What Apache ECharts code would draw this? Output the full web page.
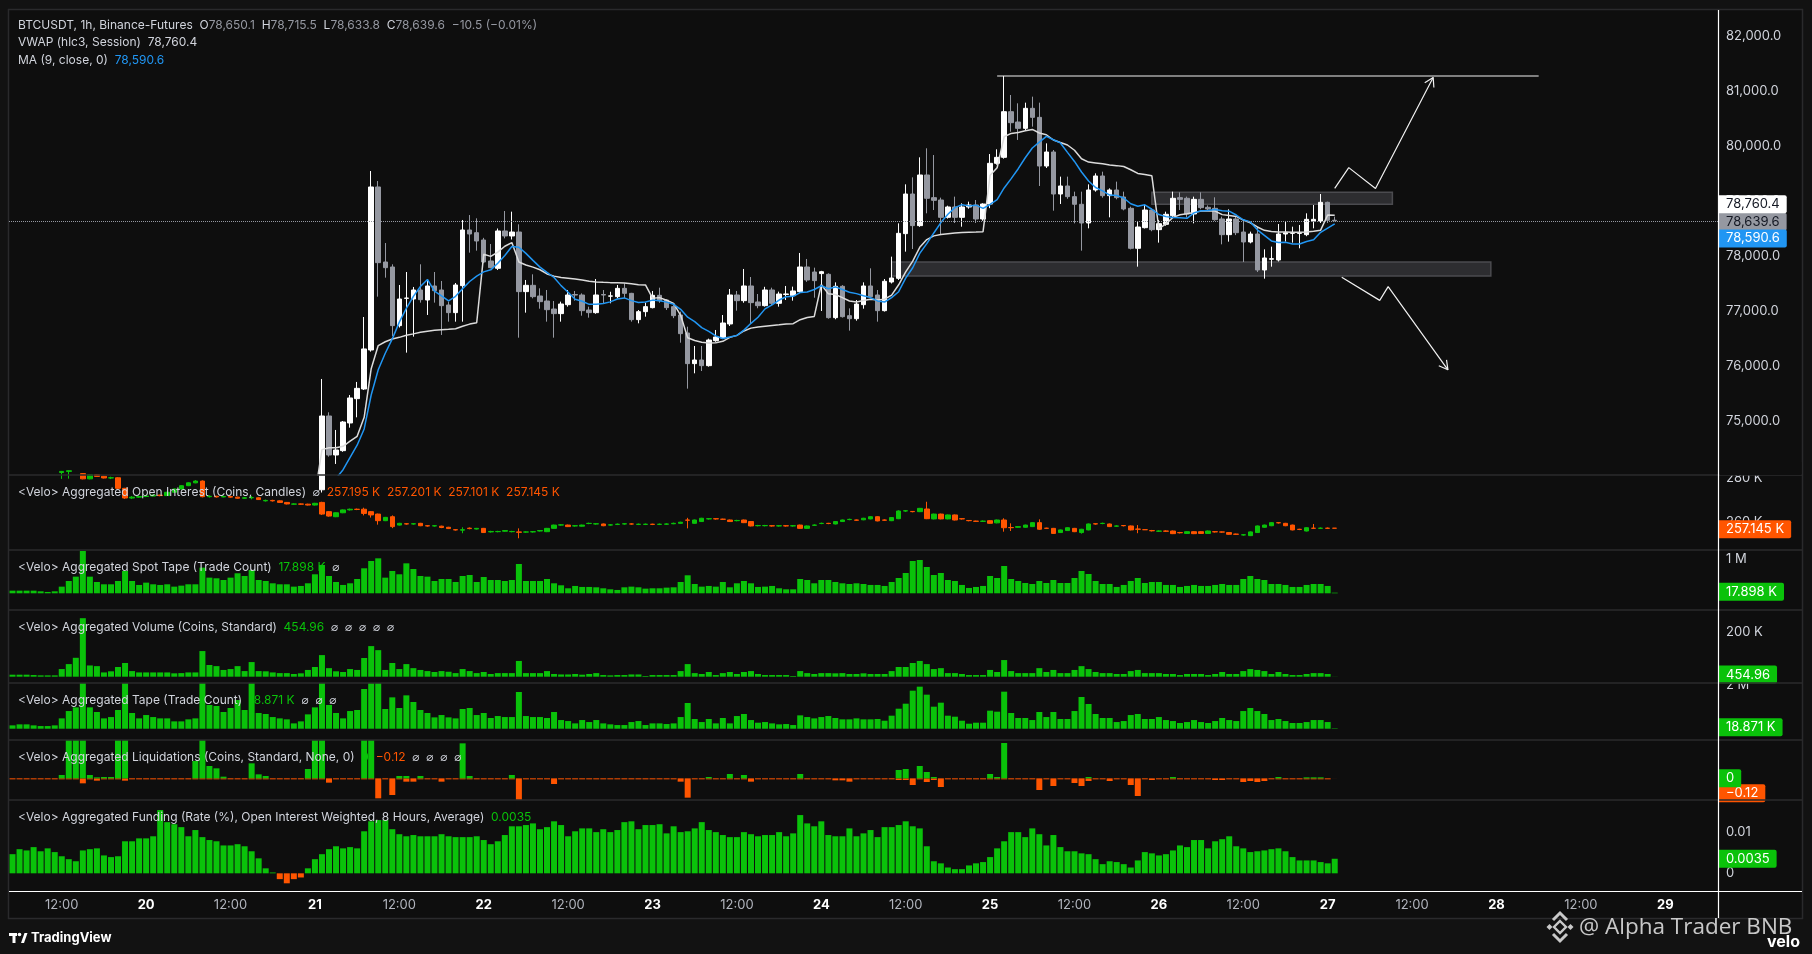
<!DOCTYPE html>
<html><head><meta charset="utf-8">
<script src="https://cdn.jsdelivr.net/npm/echarts@6/dist/echarts.min.js"></script>
<style>html,body{margin:0;padding:0;background:#121212;}#c{width:1812px;height:954px;}</style>
</head><body><div id="c"></div>
<script>
// ===== DATA (hourly slots; hour index counted from day 19 00:00) =====
const FIRST_HOUR = 5;          // first slot = 19th 05:00
const SLOT_COUNT = 243;        // slots up to 29th 07:00
const PRICE_FIRST_HOUR = 41;   // first candle kept for the price series
const dayLabels = ['19','20','21','22','23','24','25','26','27','28','29'];
const priceTicks = [75000,76000,77000,78000,79000,80000,81000,82000];

// BTCUSDT 1h candles [open, close, low, high], h41 .. h193
const priceOHLC = [
[73550,73500,73300,73700],[73500,73450,73250,73650],[73450,73550,73300,73700],[73550,73400,73200,73650],
[73400,73600,73350,73750],[73600,73650,73450,73800],[73650,73700,73500,73850],[73600,73750,73250,73950],
[73750,75091,73700,75764],[75091,74382,74352,75158],[74382,74473,74219,74837],[74461,74982,74440,75000],
[74964,75419,74879,75473],[75406,75594,75067,75710],[75582,76310,75564,76891],[76291,79255,76261,79545],
[79255,77879,77261,79363],[77891,77788,77606,78236],[77800,76734,76546,77849],[76734,77218,76700,77473],
[77230,77236,76243,77709],[77218,77382,76534,77437],[77382,77206,77152,77849],[77200,77455,76928,77582],
[77455,77370,77152,77709],[77382,77097,76564,77546],[77109,76970,76806,77170],[76970,77473,76806,77509],
[77461,78473,76806,78655],[78473,78400,78061,78745],[78424,78273,78097,78685],[78291,77891,77870,78330],
[77909,77788,77776,78218],[77776,78455,77745,78500],[78455,78364,78321,78818],[78364,78436,78300,78806],
[78436,77352,76515,78576],[77352,77467,76970,77564],[77467,77261,77230,77667],[77273,77170,77042,77412],
[77182,77024,76806,77382],[77036,76952,76515,77182],[76952,77127,76806,77170],[77115,77291,77079,77382],
[77300,77290,77188,77364],[77291,77006,76915,77321],[77018,76970,76879,77079],[76970,77291,76950,77582],
[77300,77290,77140,77382],[77270,77275,77140,77350],[77261,77412,77230,77473],[77412,77321,77230,77503],
[77321,76843,76806,77330],[76843,76988,76776,77018],[76988,77079,76897,77152],[77061,77285,77048,77364],
[77285,77188,77150,77424],[77200,77061,77018,77212],[77079,76915,76870,77127],[76927,76588,76424,76988],
[76600,76043,75588,76715],[76043,76109,75867,76364],[76109,76006,75909,76364],[76006,76473,75988,76497],
[76461,76527,76440,76655],[76509,76782,76490,76927],[76764,77291,76727,77400],[77291,77188,77006,77364],
[77188,77455,77150,77764],[77455,77152,76764,77618],[77164,77097,77050,77309],[77097,77382,77080,77440],
[77382,77140,77100,77424],[77140,77309,77079,77352],[77300,77310,77200,77455],[77279,77364,77188,77443],
[77352,77800,77330,78055],[77800,77564,77530,77946],[77709,77552,77242,77788],[77680,77715,77000,77730],
[77667,76879,76860,77685],[76879,77449,76850,77521],[77449,76897,76880,77470],[76915,76860,76643,77048],
[76860,77127,76824,77200],[77115,77455,77042,77521],[77455,77261,77240,77776],[77291,77006,76806,77382],
[77006,77540,76990,77582],[77527,77600,77500,77988],[77594,78412,77564,78594],[78406,79127,78079,79303],
[79127,78552,78127,79430],[78552,79473,78530,79794],[79473,79049,78776,79958],[79061,79012,78836,79836],
[79018,78703,78400,79061],[78703,78891,78680,78915],[78891,78703,78600,79079],[78703,78891,78533,78958],
[78891,78927,78860,78988],[78927,78673,78600,79018],[78673,78945,78640,78958],[78945,79685,78870,79854],
[79685,79794,79660,79940],[79794,80624,79770,81273],[80624,80424,80260,80927],[80436,80321,80110,80776],
[80321,80685,80290,80788],[80685,80521,80352,80897],[80521,79636,79273,80788],[79636,79891,79600,80048],
[79891,79127,78824,79927],[79127,79273,78946,79443],[79273,79079,79040,79443],[79079,78940,78594,79170],
[78940,78600,78097,79170],[78600,79200,78503,79303],[79200,79455,79170,79503],[79455,79097,79060,79533],
[79097,79200,78703,79230],[79200,79061,79030,79352],[79073,78855,78830,79170],[78867,78140,78120,78897],
[78140,78527,77806,78624],[78515,78836,78500,78927],[78836,78479,78450,78867],[78479,78588,78243,78655],
[78576,78758,78550,78806],[78733,79049,78700,79170],[79061,79030,78836,79158],[79049,78764,78700,79079],
[78764,79030,78594,79079],[79030,78879,78850,79158],[78885,78855,78820,78920],[78867,78661,78640,79067],
[78673,78388,78212,78715],[78388,78673,78261,78848],[78673,78424,78380,78715],[78436,78255,77891,78643],
[78255,78400,78230,78443],[78400,77746,77709,78533],[77746,77964,77588,78121],[77940,77952,77806,78170],
[77927,78400,77900,78582],[78400,78424,78261,78624],[78412,78415,78243,78533],[78412,78418,78140,78564],
[78388,78667,78360,78776],[78636,78667,78503,78927],[78636,78976,78600,79127],[78976,78650,78600,78988],
[78650.1,78639.6,78633.8,78715.5]
];

// Aggregated open interest candles (K coins) [open, close, low, high], h5 .. h193
const openInterest = [
[285.2,285.6,285.0,285.8],[285.6,285.9,285.4,286.1],[285.9,285.7,285.5,286.1],[285.7,285.4,285.2,285.9],
[285.4,285.1,284.9,285.6],[285.1,284.6,284.4,285.3],[284.6,283.8,283.5,284.8],[282.5,283.0,279.6,283.2],
[283.0,283.3,279.7,283.5],[283.3,282.4,281.8,283.6],[282.0,279.6,279.4,282.2],[279.6,281.5,279.4,281.8],
[281.5,280.7,280.5,281.8],[280.8,280.0,279.8,281.0],[280.0,280.1,279.5,280.6],[280.1,275.3,275.0,280.4],
[275.3,270.9,270.5,275.5],[270.9,271.3,270.5,271.8],[271.3,271.6,271.0,271.9],[271.6,271.8,271.3,272.1],
[271.8,272.2,271.6,272.5],[272.2,272.0,271.7,272.4],[272.0,273.5,271.8,273.7],[273.5,275.0,273.3,275.2],
[275.0,276.5,274.8,276.7],[276.5,277.8,276.3,278.0],[277.8,278.6,277.6,279.0],[278.6,271.5,271.2,278.9],
[271.5,271.7,271.1,272.1],[271.7,271.4,271.1,271.9],[271.4,271.6,271.2,271.9],[271.6,271.3,271.0,271.8],
[271.3,270.8,270.6,271.5],[270.8,271.0,270.6,271.2],[271.0,271.1,270.3,271.8],[271.0,270.2,270.0,271.2],
[269.6,269.8,269.3,270.2],[269.8,269.6,269.3,270.1],[269.6,268.9,268.7,269.8],[268.9,268.2,268.0,269.1],
[268.1,268.2,267.9,268.5],[268.2,268.1,267.8,268.4],[268.1,267.7,267.5,268.3],[267.7,268.5,267.5,268.7],
[268.9,263.6,263.2,269.2],[264.7,262.7,262.4,265.0],[262.4,264.2,262.2,264.4],[264.2,265.5,264.0,265.7],
[265.5,265.8,265.2,266.1],[265.8,265.7,265.4,266.1],[265.8,263.9,263.0,266.5],[264.7,263.2,262.0,265.0],
[263.6,260.6,258.8,263.8],[260.6,262.1,260.4,262.3],[262.4,257.9,257.2,263.0],[258.6,259.4,258.4,259.6],
[259.2,259.1,258.8,259.5],[259.1,259.2,258.8,259.5],[259.4,258.3,258.1,259.6],[258.3,258.2,257.9,258.6],
[258.2,258.3,257.9,258.6],[258.1,257.5,257.2,258.3],[257.6,257.0,256.8,257.8],[256.5,256.4,256.1,256.8],
[256.3,256.5,254.9,257.6],[257.2,257.0,256.7,257.5],[256.8,257.1,256.6,257.3],[257.1,255.2,255.0,257.3],
[255.5,255.7,255.2,256.0],[255.6,255.7,255.3,256.0],[255.8,256.1,255.6,256.3],[255.6,255.7,255.3,256.0],
[255.5,255.3,252.6,257.1],[255.4,255.5,255.1,255.8],[255.5,255.6,255.2,255.9],[255.9,256.1,255.7,256.3],
[255.6,257.1,255.4,257.3],[257.1,258.6,256.9,258.8],[258.6,258.7,258.3,259.0],[258.6,257.9,257.7,258.8],
[258.2,258.3,257.9,258.6],[258.1,258.6,257.9,258.8],[259.3,259.4,259.0,259.7],[259.1,259.2,258.8,259.5],
[259.1,258.3,258.1,259.3],[258.6,258.7,258.3,259.0],[258.9,259.0,258.6,259.3],[259.1,259.2,258.8,259.5],
[259.1,259.1,258.8,259.4],[258.9,259.0,258.6,259.3],[258.9,259.0,258.6,259.3],[259.0,258.9,258.6,259.2],
[258.9,259.0,258.6,259.3],[259.0,259.1,258.7,259.4],[259.2,259.4,259.0,259.7],[259.4,259.9,259.2,260.1],
[260.9,260.8,257.1,261.9],[259.4,260.9,259.2,261.1],[260.2,261.7,260.0,261.9],[261.4,261.5,261.1,261.8],
[261.5,261.4,261.1,261.7],[261.3,261.2,260.9,261.5],[260.9,260.2,260.0,261.1],[260.6,260.7,260.3,261.0],
[260.9,259.7,259.5,261.1],[260.2,258.2,258.0,260.4],[258.3,258.4,258.0,258.7],[258.3,258.4,258.0,258.7],
[258.3,258.2,257.9,258.5],[258.2,258.3,257.9,258.6],[258.3,258.2,257.9,258.5],[258.2,258.3,257.9,258.6],
[258.6,257.1,256.9,258.8],[257.1,258.2,256.9,258.4],[258.5,258.6,258.2,258.9],[259.3,259.4,259.0,259.7],
[259.4,259.3,259.0,259.6],[259.1,260.2,258.9,260.4],[260.2,260.9,260.0,261.1],[261.1,261.2,260.8,261.5],
[260.9,260.8,260.5,261.1],[261.0,261.7,260.8,261.9],[261.4,262.4,261.2,262.6],[262.4,260.5,260.3,262.6],
[260.9,260.8,260.5,261.2],[260.6,262.0,260.4,262.2],[261.5,265.0,261.3,265.3],[265.0,265.1,264.6,265.4],
[264.8,264.7,264.4,265.0],[264.7,266.2,264.5,266.4],[265.9,261.5,261.3,269.2],[261.4,263.6,261.2,263.8],
[263.6,261.4,261.2,263.8],[261.4,263.2,261.2,263.4],[263.2,260.9,260.7,263.4],[261.5,261.4,261.1,261.7],
[260.7,260.6,260.3,260.9],[260.4,260.3,260.1,260.6],[260.3,260.4,260.0,260.7],[260.6,259.4,259.2,260.8],
[259.6,260.9,259.4,261.1],[260.9,257.4,255.6,261.7],[257.5,257.4,255.9,259.4],[257.6,257.9,257.4,258.1],
[257.6,258.6,257.4,258.8],[257.9,259.7,257.7,259.9],[259.7,256.7,256.4,261.2],[257.2,257.1,256.8,257.4],
[257.1,254.8,254.6,257.3],[255.2,256.4,255.0,256.6],[256.1,257.4,255.9,257.6],[257.1,255.6,255.4,257.3],
[255.2,256.7,254.7,256.9],[256.4,259.1,256.2,259.3],[259.2,259.1,258.8,259.4],[259.3,259.4,259.0,259.7],
[259.1,257.9,257.7,259.3],[258.1,258.2,257.8,258.5],[258.4,258.3,258.0,258.6],[258.2,256.4,256.2,258.4],
[256.8,256.7,254.9,258.6],[256.5,256.5,256.4,256.6],[256.1,256.0,255.7,256.4],[255.8,255.9,255.5,256.2],
[255.9,255.8,255.5,256.2],[255.9,254.7,254.5,256.1],[255.2,255.1,254.8,255.5],[254.8,255.6,254.6,255.8],
[255.6,254.7,254.5,255.8],[255.6,254.8,254.6,255.8],[254.8,255.9,254.6,256.1],[255.6,255.5,255.2,255.8],
[255.5,255.4,255.1,255.7],[255.2,254.4,254.2,255.4],[254.5,254.4,254.1,254.7],[254.1,254.2,253.8,254.5],
[253.8,255.5,253.6,255.7],[255.2,258.2,255.0,258.4],[257.6,258.6,257.4,258.8],[258.3,259.7,258.1,259.9],
[259.7,259.6,259.3,260.0],[259.4,258.3,258.1,259.6],[258.6,256.4,256.2,258.8],[256.7,256.6,256.3,256.9],
[255.9,257.4,255.7,257.6],[257.2,257.1,256.8,259.1],[257.1,257.2,256.8,257.5],[257.2,257.1,256.8,257.5],
[257.195,257.145,257.101,257.201]
];

// Aggregated spot tape, trade count (K), h5 .. h193
const spotTape = [
77,77,77,77,58,39,58,193,357,483,1227,483,328,261,261,357,647,357,242,309,261,242,261,193,
222,261,261,744,454,435,386,454,580,502,676,386,357,290,261,261,193,213,290,551,821,502,328,242,
290,415,725,937,1014,454,647,551,869,705,502,483,357,415,415,
328,502,531,328,473,386,386,357,386,850,357,357,357,415,290,232,145,213,184,184,174,145,116,97,
174,193,174,135,145,145,164,174,328,522,270,193,213,193,328,174,290,357,290,184,193,213,145,116,
116,415,386,290,386,386,328,290,270,290,270,242,242,
213,328,444,589,937,966,763,531,589,386,357,242,155,184,213,502,444,792,415,357,299,270,357,299,
386,299,299,444,647,560,357,270,270,184,242,357,444,299,328,328,242,242,184,213,242,213,213,242,
270,242,242,415,502,415,386,270,270,242,184,184,242,270,270,213,17.898
];

// Aggregated volume (K coins), h5 .. h193
const volume = [
8.9,8.9,8.9,7.4,5.9,5.9,5.9,34,56,84,260,50,47,19,24,43,61,25,19,19,19,19,19,15,16,19,19,114,52,47,
30,34,47,25,65,25,24,19,16,16,12,15,30,43,96,38,24,21,34,30,83,136,118,30,61,34,56,38,30,25,21,25,22,
16,34,25,16,21,12,16,16,16,70,16,16,16,25,12,10,10,12,8.9,12,16,7.4,5.9,7.4,7.4,10,10,3,7.4,7.4,
7.4,7.4,25,56,16,12,21,7.4,16,21,12,21,25,12,7.4,7.4,7.4,7.4,3,25,16,12,16,16,15,16,12,12,15,12,12,
12,25,43,43,61,70,56,34,38,16,16,12,7.4,7.4,7.4,30,21,74,25,16,16,16,38,21,30,16,16,30,47,34,
21,16,16,12,12,25,30,16,16,16,12,12,7.4,12,12,12,7.4,12,21,12,12,25,34,30,25,12,21,12,7.4,7.4,
12,16,16,12,0.455
];

// Aggregated tape, trade count (K), h5 .. h193
const tapeCount = [
153,199,199,153,122,122,153,473,809,977,2443,977,764,473,534,855,2443,718,473,626,534,473,473,336,
336,428,473,2443,1084,1038,764,947,1313,855,2291,718,672,534,473,428,244,336,657,977,2291,1084,718,473,
809,855,1817,2443,2443,901,1435,947,1527,1222,855,718,519,626,519,
473,901,947,626,718,489,580,534,534,1680,580,534,534,489,764,397,351,244,397,305,397,244,199,168,
168,305,351,168,244,244,214,244,534,1176,443,305,443,244,489,244,580,672,397,275,305,244,199,214,
168,611,534,473,534,580,489,428,428,473,428,428,443,
366,596,916,1145,1741,1924,1558,1008,1191,596,550,366,229,275,275,825,779,1695,718,489,489,397,764,534,
764,443,443,809,1451,1130,672,489,489,305,351,626,672,443,443,534,397,351,260,305,397,305,260,351,
489,397,351,809,947,809,672,397,443,351,260,260,305,397,397,305,18.871
];

// Aggregated liquidations (coins): longs (up) and shorts (down), h5 .. h193
const liqLong = [
0,0,0,0,0,0,0,10,150,150,130,10,   3,4,4,150,150,0,0,0,0,0,0,0,
0,0,52,150,37,30,5,0,0,0,45,12,    7,0,0,0,0,0,28,150,150,0,0,0,
0,0,150,150,0,0,0,7,7,0,7,0,       0,0,0,0,105,7,0,0,0,0,0,10,
0,0,0,0,0,0,0,0,0,0,0,0,           0,0,0,0,0,0,0,0,0,0,0,0,
0,0,0,4,0,0,13,0,10,0,0,0,         0,0,0,0,13,0,0,0,0,0,0,0,
0,0,0,0,0,0,25,28,0,37,19,4,       0,0,0,0,0,0,0,13,4,106,0,0,
0,0,0,0,0,0,0,0,0,4,0,0,           0,0,0,0,0,0,0,0,0,4,0,0,
0,0,0,0,0,0,0,0,0,0,0,0,           4,0,0,0,3,3,3,0,0
];
const liqShort = [
-3,-3,-3,-3,-3,-3,-3,-3,-3,-3,-15,-3,   -7,-3,-3,-3,-7,-3,-3,-3,-3,-3,-3,-3,
-3,-3,-3,-3,-3,-3,-3,-3,-3,-3,-3,-3,    -3,-3,-3,-3,-3,-3,-3,-3,-3,-13,-3,-3,
-3,-3,-3,-3,-60,-3,-50,-3,-10,-10,-3,-3, -3,-10,-3,-3,-3,-3,-3,-3,-3,-3,-3,-3,
-75,-3,-3,-3,-3,-17,-3,-3,-3,-3,-3,-3,  -3,-3,-3,-3,-3,-3,-3,-3,-3,-3,-3,-10,
-58,-3,-3,-3,-3,-3,-3,-3,-3,-10,-3,-3,  -3,-3,-3,-3,-3,-3,-3,-3,-3,-6,-6,-10,
-3,-3,-3,-3,-3,-3,-5,-5,-20,-3,-11,-5,  -26,-3,-3,-3,-3,-3,-3,-3,-3,-3,-3,-3,
-3,-3,-35,-3,-23,-3,-3,-14,-23,-8,-3,-3, -8,-3,-3,-20,-53,-3,-5,-3,-3,-3,-3,-3,
-3,-3,-3,-5,-5,-3,-3,-11,-8,-11,-8,-3,  -3,-3,-3,-3,-3,-3,-3,-3,-0.12
];

// Aggregated funding rate (%), h5 .. h193
const funding = [
0.0046,0.0058,0.0055,0.0063,0.0053,0.0060,0.0051,0.0041,0.0034,0.0029,0.0055,0.0058,0.0060,0.0043,0.0039,0.0041,
0.0077,0.0077,0.0084,0.0084,0.0089,0.0152,0.0123,0.0118,0.0111,0.0089,0.0104,0.0087,0.0080,0.0077,0.0067,0.0067,
0.0070,0.0065,0.0053,0.0036,0.0012,0.0002,-0.0014,-0.0024,-0.0014,-0.0010,0.0012,0.0034,0.0046,0.0058,0.0065,0.0060,
0.0063,0.0060,0.0101,0.0125,0.0128,0.0128,0.0106,0.0094,0.0089,0.0092,0.0089,0.0089,0.0089,0.0094,0.0089,
0.0087,0.0087,0.0087,0.0089,0.0080,0.0070,0.0077,0.0092,0.0113,0.0113,0.0116,0.0120,0.0106,0.0111,0.0125,0.0116,
0.0089,0.0101,0.0108,0.0108,0.0099,0.0106,0.0099,0.0104,0.0123,0.0125,0.0106,0.0116,0.0116,0.0118,0.0096,0.0113,
0.0099,0.0101,0.0108,0.0123,0.0104,0.0099,0.0092,0.0087,0.0087,0.0099,0.0094,0.0089,0.0092,0.0092,0.0099,0.0089,
0.0096,0.0140,0.0120,0.0113,0.0125,0.0092,0.0089,0.0089,0.0108,0.0089,0.0096,0.0104,0.0087,
0.0111,0.0111,0.0116,0.0125,0.0113,0.0108,0.0065,0.0029,0.0024,0.0014,0.0010,0.0010,0.0019,0.0024,0.0027,0.0039,
0.0060,0.0077,0.0099,0.0099,0.0087,0.0108,0.0094,0.0067,0.0092,0.0063,0.0053,0.0053,0.0048,0.0046,0.0034,0.0022,
0.0029,0.0027,0.0022,0.0014,0.0031,0.0051,0.0048,0.0043,0.0046,0.0055,0.0067,0.0063,0.0080,0.0080,0.0060,0.0077,
0.0082,0.0089,0.0065,0.0060,0.0051,0.0053,0.0055,0.0058,0.0060,0.0053,0.0039,0.0031,0.0031,0.0031,0.0027,0.0024,
0.0035
];

// Drawings on the price pane, in [hour index, price]
const resistanceLine = [[145.0, 81273], [222.0, 81273]];
const upArrowPath = [[193.0, 79229], [195.0, 79607], [198.8, 79229], [207.0, 81247]];
const upArrowHead = [[205.8, 81149], [207.0, 81247], [207.1, 81065]];
const downArrowPath = [[194.0, 77613], [199.4, 77193], [200.6, 77444], [209.1, 75931]];
const downArrowHead = [[208.9, 76111], [209.1, 75931], [207.8, 76004]];
const upperZone = [[167.0, 79158], [201.2, 78940]];
const lowerZone = [[130.0, 77891], [215.2, 77636]];

// ===== derived =====
const FONT = 'Inter, "DejaVu Sans", sans-serif';
const GREEN = '#0ac20a', ORANGE = '#ff5500', UPC = '#ffffff', DOWNC = '#9598a1', TXT = '#d1d4dc';
const slots = [];
for (let i = 0; i < SLOT_COUNT; i++) {
  const h = FIRST_HOUR + i;
  slots.push(dayLabels[Math.floor(h / 24)] + ' ' + String(h % 24).padStart(2, '0') + ':00');
}
const candles = new Array(PRICE_FIRST_HOUR - FIRST_HOUR).fill('-').concat(priceOHLC);

// Session VWAP (hlc3), resets at 00:00
const vwap = [];
{
  let pv = 0, vv = 0;
  for (let i = 0; i < candles.length; i++) {
    const c = candles[i], h = FIRST_HOUR + i;
    if (c === '-') { vwap.push('-'); continue; }
    if (h % 24 === 0 || vv === 0) { pv = 0; vv = 0; }
    const hlc3 = (c[3] + c[2] + c[1]) / 3;
    pv += hlc3 * volume[i]; vv += volume[i];
    vwap.push(+(pv / vv).toFixed(1));
  }
}
// MA(9, close)
const ma9 = candles.map((c, i) => {
  if (i < 8) return '-';
  let s = 0;
  for (let k = i - 8; k <= i; k++) { if (candles[k] === '-') return '-'; s += candles[k][1]; }
  return +(s / 9).toFixed(1);
});

const panes = [
  { top: 10, height: 465, min: 74018.2, max: 82472.7, ticks: priceTicks, fmt: v => v.toLocaleString('en-US', { minimumFractionDigits: 1, maximumFractionDigits: 1 }) },
  { top: 475, height: 75, min: 247.27, max: 281.36, ticks: [260, 280], fmt: v => v + ' K' },
  { top: 550, height: 60, min: -484, max: 1255, ticks: [1000], fmt: v => '1 M' },
  { top: 610, height: 73, min: -28, max: 296.4, ticks: [200], fmt: v => v + ' K' },
  { top: 683, height: 57, min: -517, max: 2092, ticks: [2000], fmt: v => '2 M' },
  { top: 740, height: 60, min: -65, max: 115, ticks: [], fmt: v => '' },
  { top: 800, height: 91, min: -0.00425, max: 0.01762, ticks: [0, 0.01], fmt: v => String(v) }
];

const grid = panes.map(p => ({ left: 9, width: 1709, top: p.top, height: p.height, outerBoundsMode: 'none', containLabel: false }));
const xAxis = panes.map((p, gi) => ({
  type: 'category', gridIndex: gi, data: slots, boundaryGap: true,
  axisLine: { show: false }, axisTick: { show: false }, splitLine: { show: false },
  axisLabel: gi === panes.length - 1 ? {
    show: true, margin: 8, hideOverlap: false,
    interval: (idx) => (idx + FIRST_HOUR) % 12 === 0,
    formatter: (val, idx) => {
      const h = idx + FIRST_HOUR;
      return h % 24 === 0 ? '{d|' + dayLabels[h / 24] + '}' : '{t|12:00}';
    },
    rich: { d: { color: '#ffffff', fontWeight: 'bold', fontSize: 13, fontFamily: FONT }, t: { color: '#b2b5be', fontSize: 13, fontFamily: FONT } }
  } : { show: false }
}));
xAxis.push({ type: 'value', gridIndex: 0, min: FIRST_HOUR - 0.5, max: FIRST_HOUR + SLOT_COUNT - 0.5, show: false });
const yAxis = panes.map((p, gi) => ({
  type: 'value', gridIndex: gi, position: 'right', min: p.min, max: p.max, scale: false,
  axisLine: { show: false }, axisTick: { show: false }, splitLine: { show: false },
  axisLabel: { show: p.ticks.length > 0, customValues: p.ticks, margin: 8, color: TXT, fontSize: 13, fontFamily: FONT, formatter: p.fmt }
}));

const HIDDEN_LINE = { color: 'rgba(0,0,0,0)', width: 0 };
function tag(value, text, bg, fg, dy, line) {
  return {
    yAxis: value,
    lineStyle: line || HIDDEN_LINE,
    label: {
      show: true, position: 'end', distance: 0, formatter: text, backgroundColor: bg, color: fg,
      padding: [3, 7, 2, 8], fontSize: 13, fontFamily: FONT, offset: [0, dy || 0], borderRadius: [0, 2, 2, 0]
    }
  };
}
function mark(data) { return { silent: true, precision: 6, symbol: ['none', 'none'], animation: false, data: data }; }
const barBase = { type: 'bar', barWidth: 6, barGap: '-100%', silent: true, animation: false, z: 2 };

const series = [
  { type: 'line', xAxisIndex: 7, yAxisIndex: 0, data: [], silent: true, z: 1,
    markArea: { silent: true, itemStyle: { color: '#2d2d30', borderColor: '#4b4b4f', borderWidth: 1.5 },
      data: [[{ coord: upperZone[0] }, { coord: upperZone[1] }], [{ coord: lowerZone[0] }, { coord: lowerZone[1] }]] } },
  { type: 'candlestick', name: 'BTCUSDT', xAxisIndex: 0, yAxisIndex: 0, data: candles, barWidth: 5, z: 3, silent: true,
    itemStyle: { color: UPC, color0: DOWNC, borderColor: UPC, borderColor0: DOWNC, borderWidth: 1 },
    markLine: mark([
      tag(78639.6, '78,639.6', '#9598a1', '#131722', 1, { type: 'dotted', color: '#9598a1', width: 1 }),
      tag(78760.4, '78,760.4', '#ffffff', '#131722', -10),
      tag(78590.6, '78,590.6', '#2196f3', '#ffffff', 15)
    ]) },
  { type: 'line', name: 'VWAP', xAxisIndex: 0, yAxisIndex: 0, data: vwap, symbol: 'none', z: 4, silent: true,
    lineStyle: { color: '#dcdcdc', width: 1.5 } },
  { type: 'line', name: 'MA9', xAxisIndex: 0, yAxisIndex: 0, data: ma9, symbol: 'none', z: 4, silent: true,
    lineStyle: { color: '#2196f3', width: 1.5 } }
];
[resistanceLine, upArrowPath, upArrowHead, downArrowPath, downArrowHead].forEach(path => {
  series.push({ type: 'line', xAxisIndex: 7, yAxisIndex: 0, data: path, symbol: 'none', silent: true, z: 5,
    lineStyle: { color: '#f0f0f0', width: 1.2 } });
});
series.push(
  { type: 'candlestick', name: 'OI', xAxisIndex: 1, yAxisIndex: 1, data: openInterest, barWidth: 5, silent: true, z: 3,
    itemStyle: { color: GREEN, color0: ORANGE, borderColor: GREEN, borderColor0: ORANGE, borderWidth: 1 },
    markLine: mark([tag(257.145, '257.145 K', ORANGE, '#ffffff', 1)]) },
  Object.assign({}, barBase, { xAxisIndex: 2, yAxisIndex: 2, data: spotTape, itemStyle: { color: GREEN },
    markLine: mark([tag(17.898, '17.898 K', GREEN, '#ffffff', -1)]) }),
  Object.assign({}, barBase, { xAxisIndex: 3, yAxisIndex: 3, data: volume, itemStyle: { color: GREEN },
    markLine: mark([tag(0.455, '454.96', GREEN, '#ffffff', -2)]) }),
  Object.assign({}, barBase, { xAxisIndex: 4, yAxisIndex: 4, data: tapeCount, itemStyle: { color: GREEN },
    markLine: mark([tag(18.871, '18.871 K', GREEN, '#ffffff', -1)]) }),
  Object.assign({}, barBase, { xAxisIndex: 5, yAxisIndex: 5, data: liqShort, itemStyle: { color: ORANGE },
    markLine: mark([tag(-0.12, '\u22120.12', ORANGE, '#ffffff', 15)]) }),
  Object.assign({}, barBase, { xAxisIndex: 5, yAxisIndex: 5, data: liqLong, itemStyle: { color: GREEN },
    markLine: mark([tag(0, '0', GREEN, '#ffffff', 0)]) }),
  Object.assign({}, barBase, { xAxisIndex: 6, yAxisIndex: 6, data: funding,
    itemStyle: { color: p => (p.value >= 0 ? GREEN : ORANGE) },
    markLine: mark([tag(0.0035, '0.0035', GREEN, '#ffffff', 0)]) })
);

// ===== frame, legends, watermark =====
const g = [];
g.push({ type: 'rect', z: -100, shape: { x: 8.5, y: 9.5, width: 1794, height: 909 }, style: { fill: '#0e0e0e', stroke: '#2a2a2c', lineWidth: 1.5 } });
// price-scale strip just above the OI pane (crops the top of the "280 K" label like the pane edge does)
g.push({ type: 'rect', z: 55, shape: { x: 1719.5, y: 462, width: 82, height: 13 }, style: { fill: '#0e0e0e' } });
[475, 550, 610, 683, 740, 800].forEach(y => g.push({ type: 'line', z: 50, shape: { x1: 9, y1: y, x2: 1802, y2: y }, style: { stroke: '#2b2b2d', lineWidth: 1.5 } }));
g.push({ type: 'line', z: 60, shape: { x1: 1718.5, y1: 10, x2: 1718.5, y2: 918 }, style: { stroke: '#ffffff', lineWidth: 1.2 } });
g.push({ type: 'line', z: 60, shape: { x1: 9, y1: 891.5, x2: 1802, y2: 891.5 }, style: { stroke: '#ffffff', lineWidth: 1.2 } });

const LF = '12px ' + FONT;
const rich = {
  w: { fill: TXT, font: LF }, g: { fill: '#9598a1', font: LF },
  b: { fill: '#2196f3', font: LF }, o: { fill: ORANGE, font: LF },
  n: { fill: GREEN, font: LF }
};
function legend(y, text) {
  g.push({ type: 'text', z: 100, x: 18, y: y, style: { text: text, rich: rich, fill: TXT, font: LF, verticalAlign: 'middle' } });
}
legend(25.5, '{w|BTCUSDT, 1h, Binance-Futures}  {w|O}{g|78,650.1}  {w|H}{g|78,715.5}  {w|L}{g|78,633.8}  {w|C}{g|78,639.6}  {g|\u221210.5 (\u22120.01%)}');
legend(42.5, '{w|VWAP (hlc3, Session)}  {w|78,760.4}');
legend(60, '{w|MA (9, close, 0)}  {b|78,590.6}');
legend(492.5, '{w|<Velo> Aggregated Open Interest (Coins, Candles)}  {w|\u2300}  {o|257.195 K}  {o|257.201 K}  {o|257.101 K}  {o|257.145 K}');
legend(567.5, '{w|<Velo> Aggregated Spot Tape (Trade Count)}  {n|17.898 K}  {w|\u2300}');
legend(627.5, '{w|<Velo> Aggregated Volume (Coins, Standard)}  {n|454.96}  {w|\u2300  \u2300  \u2300  \u2300  \u2300}');
legend(700.5, '{w|<Velo> Aggregated Tape (Trade Count)}  {n|18.871 K}  {w|\u2300  \u2300  \u2300}');
legend(757.5, '{w|<Velo> Aggregated Liquidations (Coins, Standard, None, 0)}  {n|0}  {o|\u22120.12}  {w|\u2300  \u2300  \u2300  \u2300}');
legend(817.5, '{w|<Velo> Aggregated Funding (Rate (%), Open Interest Weighted, 8 Hours, Average)}  {n|0.0035}');

// TradingView logo + text
g.push({ type: 'rect', z: 100, shape: { x: 9, y: 933, width: 8, height: 3 }, style: { fill: '#ffffff' } });
g.push({ type: 'rect', z: 100, shape: { x: 12.5, y: 933, width: 3, height: 10 }, style: { fill: '#ffffff' } });
g.push({ type: 'circle', z: 100, shape: { cx: 19.5, cy: 934.5, r: 1.8 }, style: { fill: '#ffffff' } });
g.push({ type: 'polygon', z: 100, shape: { points: [[21, 943], [24.5, 933], [27.5, 933], [24, 943]] }, style: { fill: '#ffffff' } });
g.push({ type: 'text', z: 100, x: 31, y: 938, style: { text: 'TradingView', fill: '#ffffff', font: 'bold 13px ' + FONT, verticalAlign: 'middle' } });
// watermark
const lc = '#c9c9c9';
g.push({ type: 'polygon', z: 100, shape: { points: [[1560, 921], [1566, 927], [1560, 933], [1554, 927]] }, style: { fill: 'none', stroke: lc, lineWidth: 2.4 } });
g.push({ type: 'polygon', z: 100, shape: { points: [[1549.5, 924], [1552.5, 927], [1549.5, 930], [1546.5, 927]] }, style: { fill: lc } });
g.push({ type: 'polygon', z: 100, shape: { points: [[1570.5, 924], [1573.5, 927], [1570.5, 930], [1567.5, 927]] }, style: { fill: lc } });
g.push({ type: 'polyline', z: 100, shape: { points: [[1553, 920], [1560, 913], [1567, 920]] }, style: { stroke: lc, lineWidth: 3, fill: 'none' } });
g.push({ type: 'polyline', z: 100, shape: { points: [[1553, 934], [1560, 941], [1567, 934]] }, style: { stroke: lc, lineWidth: 3, fill: 'none' } });
g.push({ type: 'text', z: 100, x: 1579, y: 928, style: { text: '@ Alpha Trader BNB', fill: 'rgba(225,225,225,0.88)', font: '22.5px "Open Sans", ' + FONT, verticalAlign: 'middle' } });
g.push({ type: 'text', z: 101, x: 1767, y: 942, style: { text: 'velo', fill: '#ffffff', font: 'bold 16px ' + FONT, verticalAlign: 'middle' } });

const chart = echarts.init(document.getElementById('c'), null, { renderer: 'canvas', width: 1812, height: 954 });
chart.setOption({
  animation: false,
  backgroundColor: '#121212',
  textStyle: { fontFamily: FONT },
  grid: grid, xAxis: xAxis, yAxis: yAxis, series: series, graphic: { elements: g }
});
</script></body></html>
